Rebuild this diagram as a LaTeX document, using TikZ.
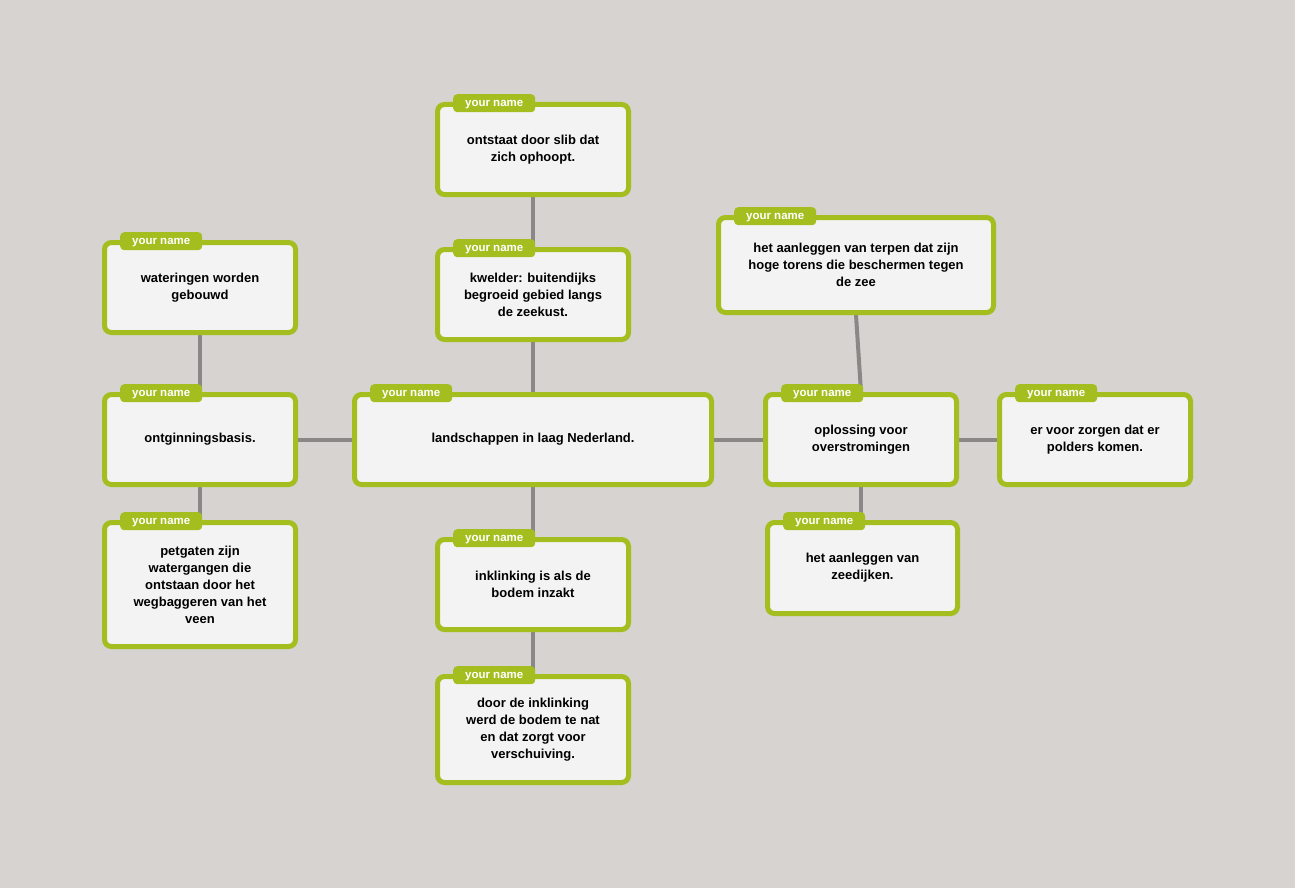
\documentclass[tikz,border=0pt]{standalone}
\usepackage{fontspec}
\setmainfont{Liberation Sans}
\usetikzlibrary{backgrounds}
\definecolor{bg}{HTML}{D6D3D0}
\definecolor{grn}{HTML}{A3BE1E}
\definecolor{fillc}{HTML}{F4F3F3}
\definecolor{ln}{HTML}{8A8786}
\tikzset{
 box/.style={draw=grn,line width=5pt,fill=fillc,rounded corners=7pt,align=center,font=\bfseries\fontsize{13}{17}\selectfont,inner sep=0pt},
 tag/.style={fill=grn,rounded corners=4pt,text=white,font=\bfseries\fontsize{11.5}{12}\selectfont,minimum width=82pt,text height=8.5pt,text depth=2.5pt,minimum height=18pt,inner sep=0pt,anchor=north west},
 conn/.style={draw=ln,line width=4pt}
}
\newcommand{\bx}[6]{%
 \node[box,minimum width={#4-#2-5},minimum height={#5-#3-5}] (#1) at ({(#2+#4)/2},{(#3+#5)/2}) {#6};
 \node[tag] (#1t) at ({#2+18},{#3-8}) {your name};}
\begin{document}
\begin{tikzpicture}[x=1pt,y=-1pt]
\useasboundingbox (0,0) rectangle (1295,888);
\bx{top}{435}{102}{631}{197}{ontstaat door slib dat\\zich ophoopt.}
\bx{kw}{435}{247}{631}{342}{kwelder: buitendijks\\begroeid gebied langs\\de zeekust.}
\bx{wat}{102}{240}{298}{335}{wateringen worden\\gebouwd}
\bx{ont}{102}{392}{298}{487}{ontginningsbasis.}
\bx{pet}{102}{520}{298}{649}{petgaten zijn\\watergangen die\\ontstaan door het\\wegbaggeren van het\\veen}
\bx{cen}{352}{392}{714}{487}{landschappen in laag Nederland.}
\bx{ink}{435}{537}{631}{632}{inklinking is als de\\bodem inzakt}
\bx{door}{435}{674}{631}{785}{door de inklinking\\werd de bodem te nat\\en dat zorgt voor\\verschuiving.}
\bx{ter}{716}{215}{996}{315}{het aanleggen van terpen dat zijn\\hoge torens die beschermen tegen\\de zee}
\bx{opl}{763}{392}{959}{487}{oplossing voor\\overstromingen}
\bx{erv}{997}{392}{1193}{487}{er voor zorgen dat er\\polders komen.}
\bx{zee}{765}{520}{960}{616}{het aanleggen van\\zeedijken.}
\begin{scope}[on background layer]
\fill[bg] (0,0) rectangle (1295,888);
\draw[conn] (top) -- (kw);
\draw[conn] (kw) -- (cen.north -| kw);
\draw[conn] (cen.south -| ink) -- (ink);
\draw[conn] (ink) -- (door);
\draw[conn] (wat) -- (ont);
\draw[conn] (ont) -- (pet);
\draw[conn] (ont) -- (cen);
\draw[conn] (cen) -- (opl);
\draw[conn] (opl) -- (erv);
\draw[conn] (ter.south) -- (opl.north);
\draw[conn] (opl.south) -- (zee.north -| opl.south);
\end{scope}
\end{tikzpicture}
\end{document}
